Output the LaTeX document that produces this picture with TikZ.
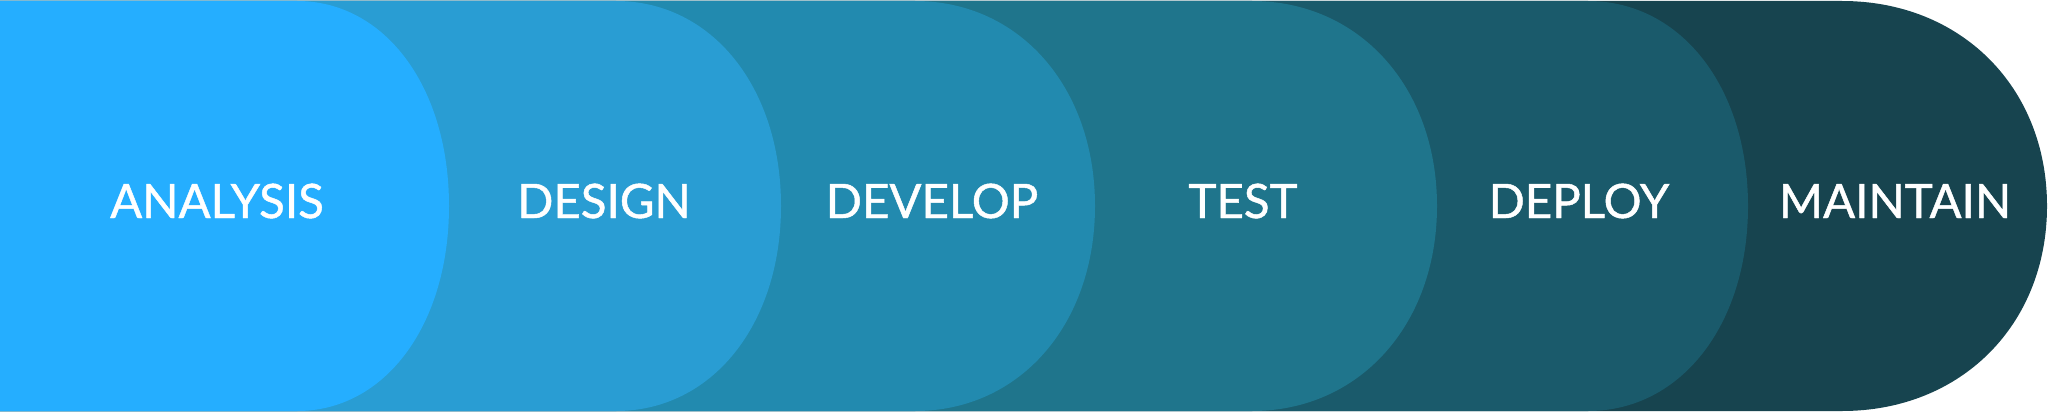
\documentclass[tikz,border=0pt]{standalone}
\usepackage{fontspec}
\setmainfont{Lato}[FakeBold=1]
\usepackage{tikz}

\definecolor{analysis}{HTML}{25AEFF}
\definecolor{design}{HTML}{299DD3}
\definecolor{develop}{HTML}{228AAF}
\definecolor{test}{HTML}{1F758C}
\definecolor{deploy}{HTML}{1A5A6B}
\definecolor{maintain}{HTML}{17444F}

\tikzset{phase/.style={text=white, anchor=base, inner sep=0pt, font=\fontsize{13.5}{16}\selectfont}}

\begin{document}
\begin{tikzpicture}[x=0.1mm, y=0.1mm]

\useasboundingbox (0,0) rectangle (2048,412);
\fill[white] (0,0) rectangle (2048,412);

% tabs, back to front
\foreach \r/\a/\c in {2047/205/maintain, 1748/160/deploy, 1437/185/test, 1095/180/develop, 781/165/design, 449/152/analysis}
  \fill[\c] (0,1) -- (\r-\a,1)
    .. controls (\r-0.42*\a,1) and (\r,206-0.58*205) .. (\r,206)
    .. controls (\r,206+0.58*205) and (\r-0.42*\a,411) .. (\r-\a,411)
    -- (0,411) -- cycle;

% labels
\node[phase] (analysis-l) at (217,194) {ANALYSIS};
\node[phase] (design-l) at (604,194) {DESIGN};
\node[phase] (develop-l) at (932,194) {DEVELOP};
\node[phase] (test-l) at (1243,194) {TEST};
\node[phase] (deploy-l) at (1579,194) {DEPLOY};
\node[phase] (maintain-l) at (1895,194) {MAINTAIN};

\end{tikzpicture}
\end{document}
